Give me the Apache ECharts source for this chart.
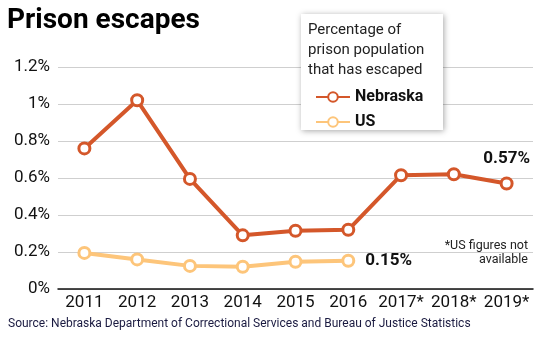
<!DOCTYPE html>
<html><head><meta charset="utf-8">
<script src="https://cdn.jsdelivr.net/npm/echarts@6/dist/echarts.min.js"></script>
<style>html,body{margin:0;padding:0;background:#fff}#c{width:546px;height:343px}</style>
</head><body><div id="c"></div>
<script>
const categories = ['2011','2012','2013','2014','2015','2016','2017*','2018*','2019*'];
const nebraska = [0.76, 1.02, 0.595, 0.29, 0.315, 0.32, 0.615, 0.62, 0.57];
const us = [0.195, 0.16, 0.125, 0.12, 0.147, 0.153];
const yTicks = [0, 0.2, 0.4, 0.6, 0.8, 1.0, 1.2];
const F = "Roboto,sans-serif";
const NE_COLOR = '#d4572a', US_COLOR = '#fdc57a';

const chart = echarts.init(document.getElementById('c'));
const neData = nebraska.map((v,i)=> i===nebraska.length-1 ? {value:v, label:{show:true, position:'top', distance:9, formatter:'0.57%', fontFamily:F, fontWeight:'bold', fontSize:17, color:'#111'}} : v);
const usData = us.map((v,i)=> i===us.length-1 ? {value:v, label:{show:true, position:'right', distance:10, formatter:'0.15%', fontFamily:F, fontWeight:'bold', fontSize:17, color:'#111'}} : v);

chart.setOption({
  animation:false,
  grid:{left:58, right:13, top:67, bottom:54},
  xAxis:{type:'category', data:categories, boundaryGap:true,
    axisLine:{lineStyle:{color:'#111', width:1.5}},
    axisTick:{inside:true, length:7, interval:0, lineStyle:{color:'#111', width:1.5}},
    axisLabel:{fontFamily:F, fontSize:17, color:'#111', margin:5, interval:0}},
  yAxis:{type:'value', min:0, max:1.2, interval:0.2,
    axisLine:{show:false}, axisTick:{show:false},
    splitLine:{lineStyle:{color:'#cfcfcf', width:1}},
    axisLabel:{fontFamily:F, fontSize:17, color:'#111', margin:8,
      formatter:v=>{const t=yTicks.find(x=>Math.abs(x-v)<1e-6); return (Math.round(t*10)/10)+'%';}}},
  legend:{left:310, top:84, orient:'vertical', itemWidth:34, itemHeight:12, itemGap:9,
    textStyle:{fontFamily:F, fontWeight:'bold', fontSize:16, color:'#111'}, data:['Nebraska','US']},
  graphic:[
    {type:'rect', z:3, shape:{x:301, y:14, width:142, height:116}, style:{fill:'#fff', shadowBlur:6, shadowColor:'rgba(0,0,0,0.35)', shadowOffsetX:1, shadowOffsetY:1}},
    {type:'text', z:4, left:308, top:20, style:{text:'Percentage of\nprison population\nthat has escaped', fontFamily:F, fontSize:15, lineHeight:20, fill:'#222'}},
    {type:'text', z:4, x:528, y:239, style:{text:'*US figures not\navailable', fontFamily:F, fontSize:12.5, lineHeight:14, fill:'#222', align:'right'}},
    {type:'text', z:4, left:7, top:7, style:{text:'Prison escapes', fontFamily:F, fontWeight:'bold', fontSize:28, fill:'#000'}},
    {type:'text', z:4, left:8, top:318, style:{text:'Source: Nebraska Department of Correctional Services and Bureau of Justice Statistics', fontFamily:F, fontSize:12, fill:'#1a1a40'}}
  ],
  series:[
    {name:'Nebraska', type:'line', data:neData, symbol:'circle', symbolSize:11,
      lineStyle:{color:NE_COLOR, width:4}, itemStyle:{color:'#fff', borderColor:NE_COLOR, borderWidth:3}, z:3},
    {name:'US', type:'line', data:usData, symbol:'circle', symbolSize:11,
      lineStyle:{color:US_COLOR, width:4}, itemStyle:{color:'#fff', borderColor:US_COLOR, borderWidth:3}, z:3}
  ]
});
</script></body></html>
